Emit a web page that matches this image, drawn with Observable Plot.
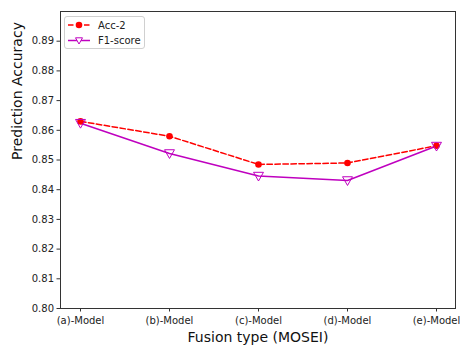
<!DOCTYPE html>
<html>
<head>
<meta charset="utf-8">
<script src="https://cdn.jsdelivr.net/npm/d3@7"></script>
<script src="https://cdn.jsdelivr.net/npm/@observablehq/plot@0.6"></script>
<style>
  html, body { margin: 0; padding: 0; background: #fff; }
  #wrap { position: relative; width: 474px; height: 355px; font-family: "DejaVu Sans", sans-serif; }
  #legend { position: absolute; left: 64px; top: 16px; width: 81px; height: 33px; box-sizing: border-box;
            border: 1px solid #d0d0d0; border-radius: 3px; background: rgba(255,255,255,0.8); }
</style>
</head>
<body>
<div id="wrap"></div>
<script>
const categories = ["(a)-Model", "(b)-Model", "(c)-Model", "(d)-Model", "(e)-Model"];
const acc2 = [0.863, 0.858, 0.8485, 0.849, 0.8548];
const f1score = [0.8624, 0.8522, 0.8446, 0.8431, 0.8547];
const seriesNames = ["Acc-2", "F1-score"];
const yTicks = [0.80, 0.81, 0.82, 0.83, 0.84, 0.85, 0.86, 0.87, 0.88, 0.89];
const xLabel = "Fusion type (MOSEI)";
const yLabel = "Prediction Accuracy";

const accRows = categories.map((c, i) => ({cat: c, v: acc2[i]}));
const f1Rows = categories.map((c, i) => ({cat: c, v: f1score[i]}));

const triDown = {
  draw(ctx, size) {
    const r = Math.sqrt(size / 1.3);
    ctx.moveTo(-r, -r * 0.75);
    ctx.lineTo(r, -r * 0.75);
    ctx.lineTo(0, r * 1.0);
    ctx.closePath();
  }
};

const red = "#ff0000";
const mag = "#bf00bf";

const chart = Plot.plot({
  width: 474,
  height: 355,
  marginLeft: 60,
  marginRight: 19,
  marginTop: 11,
  marginBottom: 47,
  style: {fontFamily: "DejaVu Sans, sans-serif", fontSize: "10px", color: "#222", background: "#fff"},
  x: {type: "point", domain: categories, padding: 0.2},
  y: {domain: [0.80, 0.90]},
  marks: [
    Plot.frame({stroke: "#333", strokeWidth: 1}),
    Plot.axisX({ticks: categories, tickSize: 3.5, tickPadding: 5, label: null, fontSize: 10, stroke: "#333"}),
    Plot.axisY({ticks: yTicks, tickSize: 3.5, tickPadding: 3, tickFormat: d3.format(".2f"), label: null, fontSize: 10, stroke: "#333"}),
    Plot.line(accRows, {x: "cat", y: "v", stroke: red, strokeWidth: 1.5, strokeDasharray: "5.5,2.5"}),
    Plot.line(f1Rows, {x: "cat", y: "v", stroke: mag, strokeWidth: 1.5}),
    Plot.dot(accRows, {x: "cat", y: "v", fill: red, r: 3.3, stroke: "none"}),
    Plot.dot(f1Rows, {x: "cat", y: "v", symbol: triDown, r: 3.2, stroke: mag, fill: "white", fillOpacity: 0, strokeWidth: 1}),
    Plot.text([xLabel], {frameAnchor: "bottom", dy: 29, fontSize: 14, fill: "#111", lineAnchor: "middle"}),
    Plot.text([yLabel], {frameAnchor: "left", dx: -43, rotate: -90, fontSize: 14, fill: "#111", lineAnchor: "middle"})
  ]
});

const wrap = document.getElementById("wrap");
wrap.appendChild(chart);

const legend = document.createElement("div");
legend.id = "legend";
const ns = "http://www.w3.org/2000/svg";
const lsvg = document.createElementNS(ns, "svg");
lsvg.setAttribute("width", 79);
lsvg.setAttribute("height", 31);
lsvg.style.position = "absolute";
lsvg.style.left = "0px";
lsvg.style.top = "0px";
lsvg.innerHTML = `
  <line x1="3" x2="25" y1="8" y2="8" stroke="${red}" stroke-width="1.5" stroke-dasharray="5.5,2.5"/>
  <circle cx="14" cy="8" r="3.3" fill="${red}"/>
  <text x="33" y="8" dy="0.35em" font-size="10" fill="#222">${seriesNames[0]}</text>
  <line x1="3" x2="25" y1="23.5" y2="23.5" stroke="${mag}" stroke-width="1.5"/>
  <path d="M10.5,20.8 L17.5,20.8 L14,27 Z" fill="white" stroke="${mag}" stroke-width="1"/>
  <text x="33" y="23.5" dy="0.35em" font-size="10" fill="#222">${seriesNames[1]}</text>
`;
legend.appendChild(lsvg);
wrap.appendChild(legend);
</script>
</body>
</html>
